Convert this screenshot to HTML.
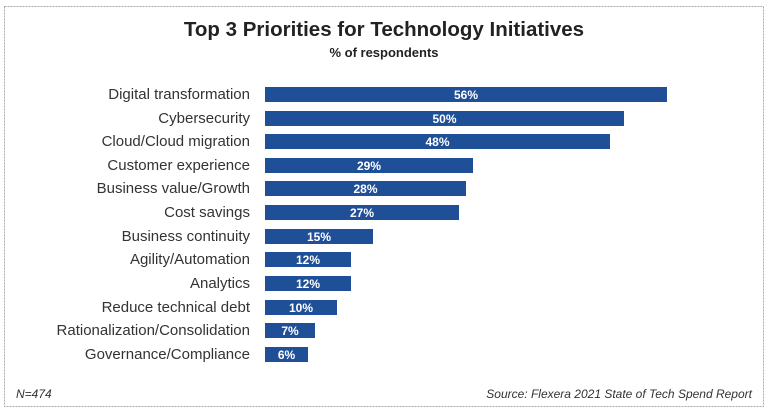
<!DOCTYPE html>
<html><head><meta charset="utf-8"><style>
html,body{margin:0;padding:0;background:#fff;}
svg{display:block;font-family:"Liberation Sans",sans-serif;}
</style></head><body>
<svg width="768" height="413" viewBox="0 0 768 413" xmlns="http://www.w3.org/2000/svg">
<rect x="4.5" y="6.5" width="759" height="400" fill="#fff" stroke="#aaa" stroke-dasharray="2,1" stroke-width="1"/>
<text x="384" y="36" text-anchor="middle" font-size="20.5" font-weight="bold" fill="#222">Top 3 Priorities for Technology Initiatives</text>
<text x="384" y="57" text-anchor="middle" font-size="13" font-weight="bold" fill="#222">% of respondents</text>
<g font-size="15" fill="#333" text-anchor="end">
<text x="250" y="99">Digital transformation</text>
<text x="250" y="123">Cybersecurity</text>
<text x="250" y="146">Cloud/Cloud migration</text>
<text x="250" y="170">Customer experience</text>
<text x="250" y="193">Business value/Growth</text>
<text x="250" y="217">Cost savings</text>
<text x="250" y="241">Business continuity</text>
<text x="250" y="264">Agility/Automation</text>
<text x="250" y="288">Analytics</text>
<text x="250" y="312">Reduce technical debt</text>
<text x="250" y="335">Rationalization/Consolidation</text>
<text x="250" y="359">Governance/Compliance</text>
</g>
<g fill="#1f4f97">
<rect x="265" y="87" width="402" height="15"/>
<rect x="265" y="111" width="359" height="15"/>
<rect x="265" y="134" width="345" height="15"/>
<rect x="265" y="158" width="208" height="15"/>
<rect x="265" y="181" width="201" height="15"/>
<rect x="265" y="205" width="194" height="15"/>
<rect x="265" y="229" width="108" height="15"/>
<rect x="265" y="252" width="86" height="15"/>
<rect x="265" y="276" width="86" height="15"/>
<rect x="265" y="300" width="72" height="15"/>
<rect x="265" y="323" width="50" height="15"/>
<rect x="265" y="347" width="43" height="15"/>
</g>
<g font-size="12" font-weight="bold" fill="#fff" text-anchor="middle">
<text x="466" y="99">56%</text>
<text x="444.5" y="123">50%</text>
<text x="437.5" y="146">48%</text>
<text x="369" y="170">29%</text>
<text x="365.5" y="193">28%</text>
<text x="362" y="217">27%</text>
<text x="319" y="241">15%</text>
<text x="308" y="264">12%</text>
<text x="308" y="288">12%</text>
<text x="301" y="312">10%</text>
<text x="290" y="335">7%</text>
<text x="286.5" y="359">6%</text>
</g>
<text x="16" y="398" font-size="12" font-style="italic" fill="#333">N=474</text>
<text x="752" y="398" font-size="12" font-style="italic" fill="#333" text-anchor="end">Source: Flexera 2021 State of Tech Spend Report</text>
</svg>
</body></html>
